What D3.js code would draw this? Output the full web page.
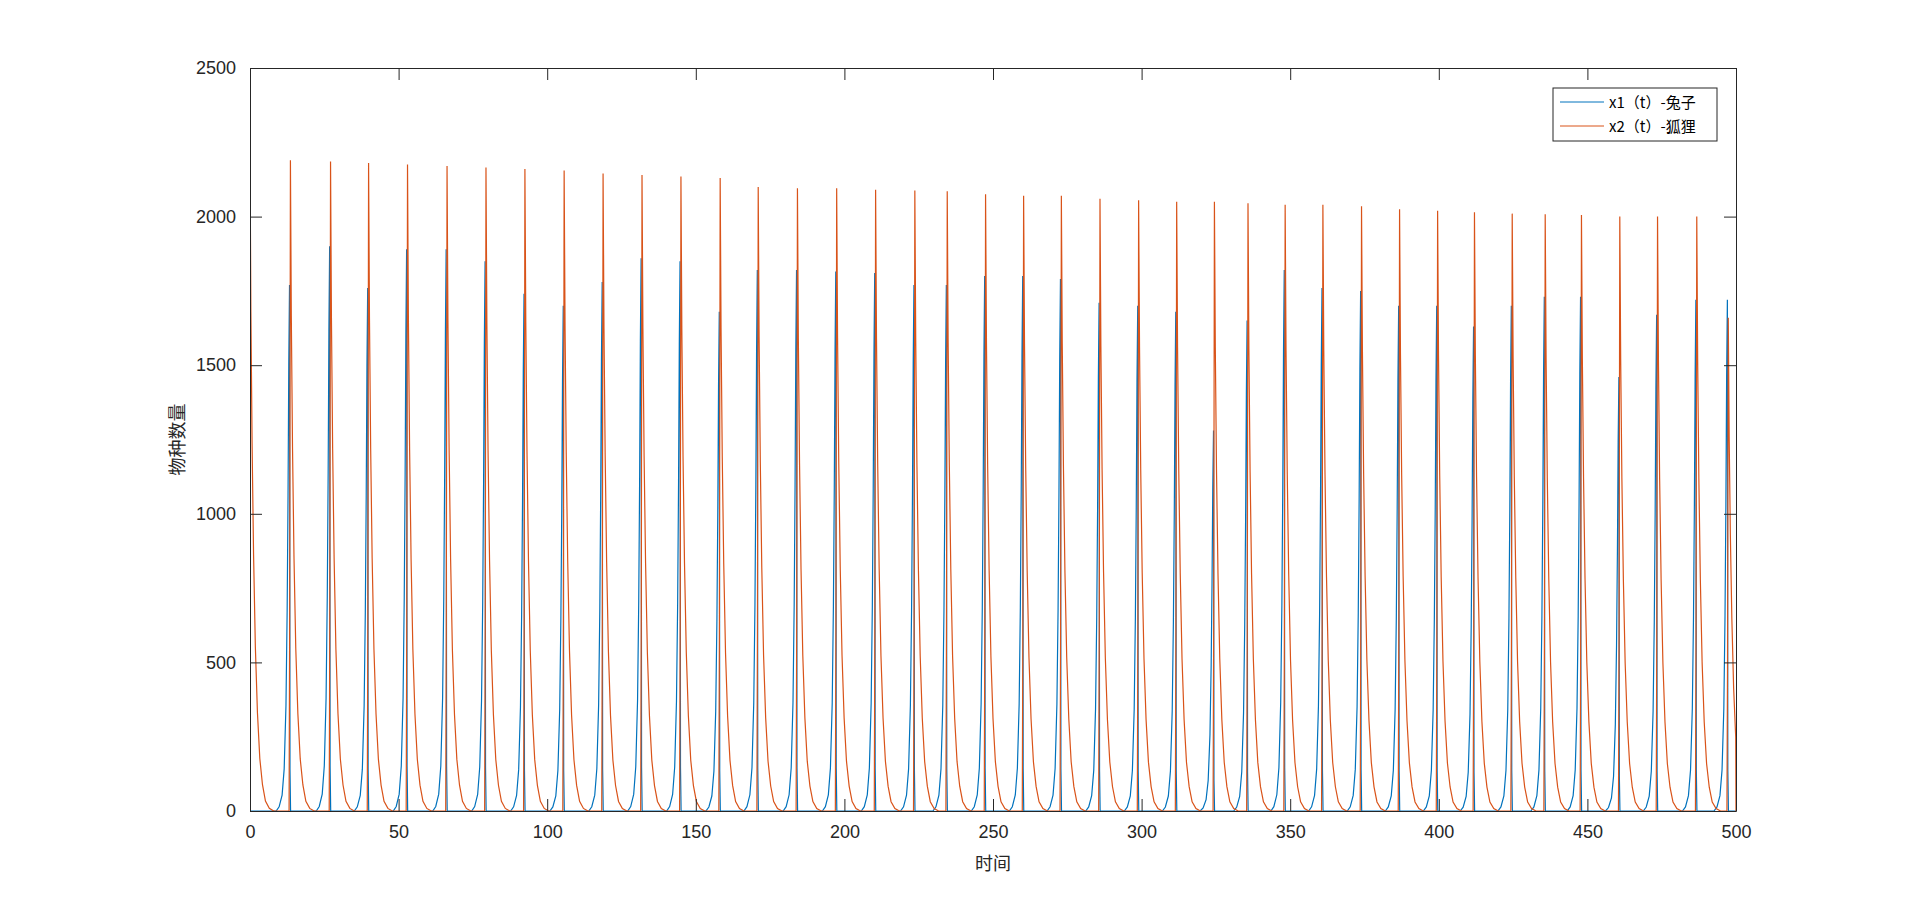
<!DOCTYPE html>
<html><head><meta charset="utf-8">
<script src="https://cdn.jsdelivr.net/npm/d3@7"></script>
<style>body{margin:0;background:#fff}svg{display:block;font-family:"Noto Sans CJK SC",Arial,sans-serif}</style>
</head><body><div id="chart"></div>
<script>
// cycle peak times (fox)
const peakTimes = [0, 13.6, 27.1, 39.9, 53, 66.3, 79.4, 92.5, 105.7, 118.8, 131.9, 145, 158.2, 171, 184.2, 197.4, 210.5, 223.7, 234.6, 247.5, 260.3, 273, 286, 299, 311.8, 324.5, 335.8, 348.3, 361, 374, 386.8, 399.6, 412, 424.7, 435.8, 448, 460.9, 473.6, 486.8, 497.4];
const foxPeaks = [2210, 2190, 2185, 2180, 2175, 2170, 2165, 2160, 2155, 2145, 2140, 2135, 2130, 2100, 2095, 2095, 2090, 2088, 2085, 2075, 2070, 2070, 2060, 2055, 2050, 2050, 2045, 2040, 2040, 2035, 2025, 2020, 2015, 2010, 2008, 2005, 2000, 2000, 2000, 1660];
const rabbitPeaks = [1550, 1770, 1900, 1760, 1890, 1890, 1850, 1740, 1700, 1780, 1860, 1850, 1680, 1820, 1820, 1815, 1810, 1770, 1770, 1800, 1800, 1790, 1710, 1700, 1680, 1280, 1650, 1820, 1760, 1750, 1700, 1700, 1630, 1700, 1730, 1730, 1460, 1670, 1720, 1720];
// cycle profile (offset from peak, fraction of peak)
const foxOffsets = [-0.45, -0.25, 0, 0.3, 0.7, 1.2, 1.8, 2.5, 3.3, 4.2, 5.2, 6.5, 8];
const foxShape = [0, 0.3, 1, 0.76, 0.56, 0.39, 0.25, 0.15, 0.08, 0.04, 0.015, 0.004, 0];
const rabbitOffsets = [-4.8, -3.8, -2.8, -2.1, -1.5, -1.1, -0.8, -0.55, -0.3, -0.15, 0.05];
const rabbitShape = [0, 0.008, 0.03, 0.08, 0.2, 0.38, 0.6, 0.85, 1, 0.08, 0];
const xTicks = [0, 50, 100, 150, 200, 250, 300, 350, 400, 450, 500];
const yTicks = [0, 500, 1000, 1500, 2000, 2500];

const W = 1920, H = 912, m = {left: 250, right: 1736, top: 68, bottom: 811};
const svg = d3.select('#chart').append('svg').attr('width', W).attr('height', H);
const x = d3.scaleLinear().domain([0, 500]).range([m.left, m.right]);
const y = d3.scaleLinear().domain([0, 2500]).range([m.bottom, m.top]);

function buildSeries(peaks, offsets, shape) {
    const pts = [[0, 0]];
    peakTimes.forEach((t, i) => {
        offsets.forEach((o, j) => pts.push([t + o, peaks[i] * shape[j]]));
    });
    pts.push([500, 0]);
    return pts.sort((a, b) => a[0] - b[0]);
}
const fox = buildSeries(foxPeaks, foxOffsets, foxShape);
const rabbit = buildSeries(rabbitPeaks, rabbitOffsets, rabbitShape);

svg.append('clipPath').attr('id', 'clip').append('rect')
    .attr('x', m.left).attr('y', m.top).attr('width', m.right - m.left).attr('height', m.bottom - m.top);
const line = d3.line().x(d => x(d[0])).y(d => y(d[1]));
const g = svg.append('g').attr('clip-path', 'url(#clip)');
g.append('path').datum(rabbit).attr('d', line).attr('fill', 'none').attr('stroke', '#0072BD').attr('stroke-width', 1.2);
g.append('path').datum(fox).attr('d', line).attr('fill', 'none').attr('stroke', '#D95319').attr('stroke-width', 1.2);

// axes with inward ticks
const fmt = d3.format('d');
svg.append('g').attr('transform', `translate(0,${m.bottom})`)
    .call(d3.axisBottom(x).tickValues(xTicks).tickFormat(fmt).tickSizeInner(-12).tickSizeOuter(0).tickPadding(14));
svg.append('g').attr('transform', `translate(${m.left},0)`)
    .call(d3.axisLeft(y).tickValues(yTicks).tickFormat(fmt).tickSizeInner(-12).tickSizeOuter(0).tickPadding(14));
svg.append('g').attr('transform', `translate(0,${m.top})`)
    .call(d3.axisTop(x).tickValues(xTicks).tickSizeInner(-12).tickSizeOuter(0).tickFormat(''));
svg.append('g').attr('transform', `translate(${m.right},0)`)
    .call(d3.axisRight(y).tickValues(yTicks).tickSizeInner(-12).tickSizeOuter(0).tickFormat(''));
svg.selectAll('.domain, .tick line').attr('stroke', '#262626');
svg.selectAll('.tick text').attr('font-size', 18).attr('fill', '#262626').attr('font-family', 'Arial, sans-serif');

svg.append('text').attr('x', (m.left + m.right) / 2).attr('y', 870).attr('text-anchor', 'middle')
    .attr('font-size', 18).attr('fill', '#262626').text('时间');
svg.append('text').attr('transform', `translate(184,${(m.top + m.bottom) / 2}) rotate(-90)`)
    .attr('text-anchor', 'middle').attr('font-size', 18).attr('fill', '#262626').text('物种数量');

// legend
const lg = svg.append('g');
lg.append('rect').attr('x', 1553).attr('y', 88).attr('width', 164).attr('height', 53)
    .attr('fill', '#fff').attr('stroke', '#262626');
const names = ['x1（t）-兔子', 'x2（t）-狐狸'], cols = ['#0072BD', '#D95319'];
names.forEach((n, i) => {
    const yy = 102 + i * 24;
    lg.append('line').attr('x1', 1560).attr('x2', 1604).attr('y1', yy).attr('y2', yy).attr('stroke', cols[i]);
    lg.append('text').attr('x', 1609).attr('y', yy + 6).attr('font-size', 15).attr('fill', '#000').text(n);
});
</script></body></html>
